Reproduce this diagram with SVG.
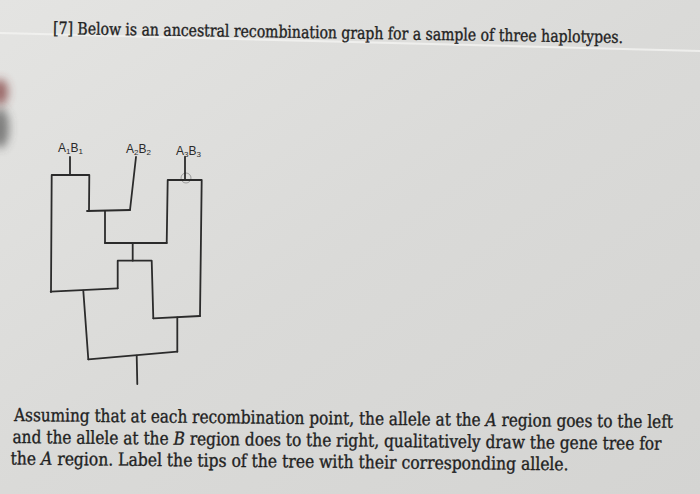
<svg xmlns="http://www.w3.org/2000/svg" width="700" height="494" viewBox="0 0 700 494">
  <defs>
    <linearGradient id="paper" x1="0" y1="0" x2="1" y2="1">
      <stop offset="0" stop-color="#e4e4e2"/>
      <stop offset="0.5" stop-color="#dadad8"/>
      <stop offset="1" stop-color="#d4d4d2"/>
    </linearGradient>
    <filter id="blur" x="-1" y="-1" width="3" height="3">
      <feGaussianBlur stdDeviation="5"/>
    </filter>
    <style>
      .txt { font-family: "DejaVu Serif Condensed", "DejaVu Serif", "Liberation Serif", serif; fill: #1f1f1f; stroke: #1f1f1f; stroke-width: 0.35; }
      .head { font-size: 17px; }
      .body { font-size: 18px; }
      .lab { font-family: "Liberation Sans", "DejaVu Sans", sans-serif; font-size: 12px; fill: #2a2a2a; }
      .sub { font-size: 8px; }
      .edge { fill: none; stroke: #2b2b2b; stroke-width: 1.8; stroke-linecap: round; stroke-linejoin: round; }
    </style>
  </defs>

  <!-- paper -->
  <rect x="0" y="0" width="700" height="494" fill="url(#paper)"/>
  <line x1="0" y1="33" x2="700" y2="51" stroke="#f4f4f2" stroke-width="2" opacity="0.8"/>
  <!-- finger at left edge -->
  <ellipse cx="0" cy="92" rx="8" ry="13" fill="#7a3030" opacity="0.7" filter="url(#blur)"/>
  <ellipse cx="0" cy="128" rx="9" ry="20" fill="#3a3a3a" opacity="0.6" filter="url(#blur)"/>

  <!-- heading -->
  <text class="txt head" x="53" y="34" textLength="570" lengthAdjust="spacingAndGlyphs" transform="rotate(0.9 53 34)">[7] Below is an ancestral recombination graph for a sample of three haplotypes.</text>

  <!-- tip labels -->
  <g id="tip1">
    <text class="lab" x="58" y="152">A<tspan class="sub" dy="2">1</tspan><tspan dy="-2">B</tspan><tspan class="sub" dy="2">1</tspan></text>
  </g>
  <g id="tip2">
    <text class="lab" x="126" y="153">A<tspan class="sub" dy="2">2</tspan><tspan dy="-2">B</tspan><tspan class="sub" dy="2">2</tspan></text>
  </g>
  <g id="tip3">
    <text class="lab" x="176" y="155">A<tspan class="sub" dy="2">3</tspan><tspan dy="-2">B</tspan><tspan class="sub" dy="2">3</tspan></text>
    <circle cx="186" cy="178" r="5" fill="none" stroke="#8a8a8a" stroke-width="0.8"/>
  </g>

  <!-- connectors -->
  <g id="connectors">
    <path class="edge" d="M70 157 L70 175"/>
    <path class="edge" d="M51 292 L51.7 175 L89.3 175 L89 211"/>
    <path class="edge" d="M87 211 L130 210"/>
    <path class="edge" d="M136 157 L130 210"/>
    <path class="edge" d="M105 211 L105 243"/>
    <path class="edge" d="M185 157 L185 180"/>
    <path class="edge" d="M166.7 243 L167.7 180 L201.7 180 L200 316"/>
    <path class="edge" d="M105 243 L166.7 243"/>
    <path class="edge" d="M132.7 243 L132.7 260.7"/>
    <path class="edge" d="M117.7 288.3 L117.7 260.7 L151.7 260.7 L153.3 318.3"/>
    <path class="edge" d="M50.7 291.7 L117.7 288.3"/>
    <path class="edge" d="M153.3 318.3 L200 316"/>
    <path class="edge" d="M83.3 290.7 L88.3 359.3"/>
    <path class="edge" d="M177.3 317.3 L177.3 351.7"/>
    <path class="edge" d="M88.3 359.3 L177.3 351.7"/>
    <path class="edge" d="M136.7 355.7 L137.3 384"/>
  </g>

  <!-- question text -->
  <g transform="rotate(0.6 13 421)">
    <text class="txt body" x="14" y="421" textLength="659" lengthAdjust="spacingAndGlyphs">Assuming that at each recombination point, the allele at the <tspan font-style="italic">A</tspan> region goes to the left</text>
    <text class="txt body" x="12.7" y="443" textLength="649" lengthAdjust="spacingAndGlyphs">and the allele at the <tspan font-style="italic">B</tspan> region does to the right, qualitatively draw the gene tree for</text>
    <text class="txt body" x="11" y="464.5" textLength="558" lengthAdjust="spacingAndGlyphs">the <tspan font-style="italic">A</tspan> region.  Label the tips of the tree with their corresponding allele.</text>
  </g>
</svg>
